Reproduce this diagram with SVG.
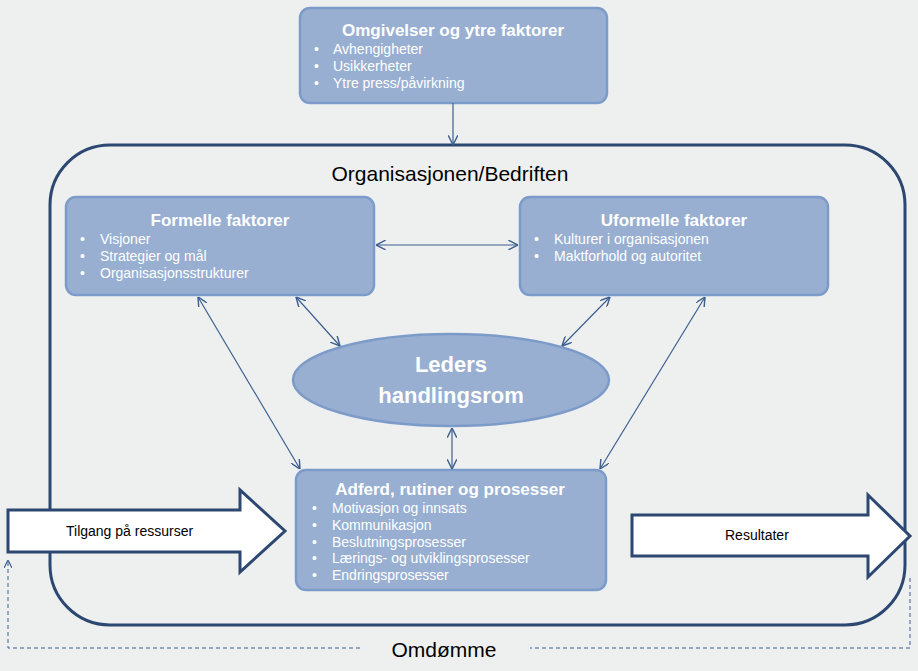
<svg xmlns="http://www.w3.org/2000/svg" width="918" height="671" viewBox="0 0 918 671">
<style>
.box{fill:#98afd2;stroke:#7d9bc9;stroke-width:2.5}
.t{font-family:"Liberation Sans",Arial,sans-serif;fill:#fff}
.h{font-size:17px;font-weight:bold;text-anchor:middle}
.b{font-size:14px}
.c{stroke:#3d5f8f;stroke-width:1.2;fill:none;marker-end:url(#a)}
.d{marker-start:url(#s)}
.k{font-family:"Liberation Sans",Arial,sans-serif;fill:#000}
</style>
<defs>
<marker id="a" viewBox="0 0 10 10" refX="10" refY="5" markerWidth="8" markerHeight="8" orient="auto"><path d="M0,0L10,5L0,10" fill="none" stroke="#3d5f8f" stroke-width="1.5"/></marker>
<marker id="s" viewBox="0 0 10 10" refX="0" refY="5" markerWidth="8" markerHeight="8" orient="auto"><path d="M10,0L0,5L10,10" fill="none" stroke="#3d5f8f" stroke-width="1.5"/></marker>
</defs>
<rect width="918" height="671" fill="#eef0f0"/>
<rect x="50" y="145" width="855" height="480" rx="60" fill="none" stroke="#2c4770" stroke-width="3"/>
<text class="k" x="450" y="181" font-size="21" text-anchor="middle">Organisasjonen/Bedriften</text>
<g id="omgivelser"><rect class="box" x="300" y="8" width="307" height="95" rx="10"/>
<text class="t h" x="453" y="36">Omgivelser og ytre faktorer</text>
<text class="t b" x="314" y="54">•<tspan x="333">Avhengigheter</tspan></text><text class="t b" x="314" y="71">•<tspan x="333">Usikkerheter</tspan></text><text class="t b" x="314" y="88">•<tspan x="333">Ytre press/påvirkning</tspan></text></g>
<g id="formelle"><rect class="box" x="66" y="197" width="308" height="98" rx="10"/>
<text class="t h" x="220" y="226">Formelle faktorer</text>
<text class="t b" x="80" y="244">•<tspan x="100">Visjoner</tspan></text><text class="t b" x="80" y="261">•<tspan x="100">Strategier og mål</tspan></text><text class="t b" x="80" y="278">•<tspan x="100">Organisasjonsstrukturer</tspan></text></g>
<g id="uformelle"><rect class="box" x="520" y="197" width="308" height="98" rx="10"/>
<text class="t h" x="674" y="226">Uformelle faktorer</text>
<text class="t b" x="534" y="244">•<tspan x="554">Kulturer i organisasjonen</tspan></text><text class="t b" x="534" y="261">•<tspan x="554">Maktforhold og autoritet</tspan></text></g>
<g id="leder"><ellipse class="box" cx="451" cy="380" rx="158" ry="46"/>
<text class="t" x="451" y="372" font-size="22" font-weight="bold" text-anchor="middle">Leders</text>
<text class="t" x="451" y="403" font-size="22" font-weight="bold" text-anchor="middle">handlingsrom</text></g>
<g id="adferd"><rect class="box" x="296" y="470" width="310" height="120" rx="10"/>
<text class="t h" x="450" y="495">Adferd, rutiner og prosesser</text>
<text class="t b" x="312" y="513">•<tspan x="332">Motivasjon og innsats</tspan></text><text class="t b" x="312" y="530">•<tspan x="332">Kommunikasjon</tspan></text><text class="t b" x="312" y="547">•<tspan x="332">Beslutningsprosesser</tspan></text><text class="t b" x="312" y="563">•<tspan x="332">Lærings- og utviklingsprosesser</tspan></text><text class="t b" x="312" y="580">•<tspan x="332">Endringsprosesser</tspan></text></g>
<g id="tilgang"><path d="M8,510H240V490L285,531L240,572V552H8Z" fill="#fff" stroke="#2c4770" stroke-width="3"/>
<text class="k" x="66" y="536" font-size="14">Tilgang på ressurser</text></g>
<g id="resultater"><path d="M632,515H868V495L910,536L868,577V556H632Z" fill="#fff" stroke="#2c4770" stroke-width="3"/>
<text class="k" x="725" y="540" font-size="14">Resultater</text></g>
<g id="connectors">
<path class="c" d="M453,103V145"/>
<path class="c d" d="M376,245H518"/>
<path class="c d" d="M296,297L340,346"/>
<path class="c d" d="M610,297L562,346"/>
<path class="c d" d="M198,297L300,469"/>
<path class="c d" d="M705,297L600,469"/>
<path class="c d" d="M452,428V469"/>
<path d="M910,578V648H530M360,648H8V560" fill="none" stroke="#3d5f8f" stroke-width="1" stroke-dasharray="4,3" marker-end="url(#a)"/>
</g>
<text class="k" x="444" y="657" font-size="21" text-anchor="middle">Omdømme</text>
</svg>
